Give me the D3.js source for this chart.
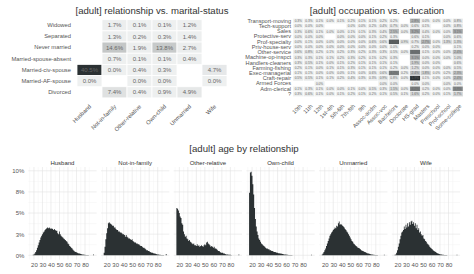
<!doctype html>
<html lang="en">
<head>
    <meta charset="utf-8"/>
    <title>adult - overview</title>
    <script src="https://d3js.org/d3.v7.min.js"></script>
    <style>
        body { margin: 0; padding: 0; background: #fff; -webkit-font-smoothing: antialiased; }
        svg { display: block; font-family: "Liberation Sans", Arial, sans-serif; }
        .domain { display: none; }
    </style>
</head>
<body>
<script>
    // ---------- data: relationship vs marital-status (% of all rows) ----------
    const relationships = ['Husband', 'Not-in-family', 'Other-relative', 'Own-child', 'Unmarried', 'Wife'];
    const maritalStatus = ['Widowed', 'Separated', 'Never married', 'Married-spouse-absent',
        'Married-civ-spouse', 'Married-AF-spouse', 'Divorced'];
    // one row per marital status, one value per relationship (null = no rows)
    const relMarital = [
        [null, 1.7, 0.1, 0.1, 1.2, null],
        [null, 1.3, 0.2, 0.3, 1.4, null],
        [null, 14.6, 1.9, 13.8, 2.7, null],
        [null, 0.7, 0.1, 0.1, 0.4, null],
        [40.5, 0.0, 0.4, 0.3, null, 4.7],
        [0.0, null, 0.0, 0.0, null, 0.0],
        [null, 7.4, 0.4, 0.9, 4.9, null]
    ];

    // ---------- data: occupation vs education ----------
    const educations = ['10th', '11th', '12th', '1st-4th', '5th-6th', '7th-8th', '9th', 'Assoc-acdm',
        'Assoc-voc', 'Bachelors', 'Doctorate', 'HS-grad', 'Masters', 'Preschool', 'Prof-school', 'Some-college'];
    const occupations = ['Transport-moving', 'Tech-support', 'Sales', 'Protective-serv', 'Prof-specialty',
        'Priv-house-serv', 'Other-service', 'Machine-op-inspct', 'Handlers-cleaners', 'Farming-fishing',
        'Exec-managerial', 'Craft-repair', 'Armed Forces', 'Adm-clerical', '?'];
    const occEdu = [
        [0.3, 0.3, 0.1, 0.0, 0.1, 0.2, 0.1, 0.1, 0.2, 0.2, null, 2.8, 0.0, 0.0, 0.0, 0.8],
        [0.0, 0.0, 0.0, null, null, 0.0, 0.0, 0.2, 0.4, 0.7, 0.0, 0.6, 0.1, null, 0.0, 0.8],
        [0.3, 0.6, 0.1, 0.0, 0.0, 0.1, 0.1, 0.3, 0.4, 2.5, 0.0, 3.2, 0.4, 0.0, 0.0, 3.1],
        [0.0, 0.0, 0.0, null, 0.0, 0.0, 0.0, 0.1, 0.2, 0.3, null, 0.6, 0.1, null, 0.0, 0.6],
        [0.0, 0.1, 0.0, 0.0, 0.0, 0.0, 0.0, 0.6, 0.6, 5.0, 0.9, 0.7, 2.7, 0.0, 1.3, 1.3],
        [0.0, 0.0, 0.0, 0.0, 0.0, 0.0, 0.0, 0.0, 0.0, 0.0, null, 0.2, 0.0, 0.0, null, 0.1],
        [0.6, 0.8, 0.2, 0.1, 0.2, 0.3, 0.2, 0.3, 0.3, 0.5, 0.0, 4.5, 0.1, 0.0, 0.0, 2.4],
        [0.3, 0.3, 0.1, 0.1, 0.2, 0.3, 0.2, 0.1, 0.2, 0.3, null, 3.1, 0.0, 0.0, 0.0, 1.0],
        [0.3, 0.5, 0.1, 0.0, 0.1, 0.2, 0.1, 0.1, 0.1, 0.1, null, 1.9, 0.0, 0.0, null, 0.6],
        [0.2, 0.1, 0.0, 0.1, 0.1, 0.3, 0.1, 0.1, 0.1, 0.2, 0.0, 1.2, 0.0, 0.0, 0.0, 0.5],
        [0.1, 0.1, 0.0, 0.0, 0.0, 0.1, 0.0, 0.6, 0.6, 4.2, 0.2, 2.4, 1.8, 0.0, 0.2, 2.3],
        [0.5, 0.5, 0.1, 0.1, 0.2, 0.4, 0.3, 0.3, 0.9, 0.8, 0.0, 5.9, 0.1, 0.0, 0.0, 2.4],
        [null, null, 0.0, null, null, null, null, null, 0.0, 0.0, null, 0.0, 0.0, null, 0.0, 0.0],
        [0.1, 0.3, 0.1, 0.0, 0.0, 0.1, 0.0, 0.5, 0.3, 1.5, 0.0, 4.2, 0.2, 0.0, 0.0, 3.9],
        [0.3, 0.6, 0.1, 0.0, 0.1, 0.2, 0.1, 0.2, 0.1, 0.5, 0.1, 1.6, 0.2, 0.0, 0.1, 1.7]
    ];

    // ---------- data: age histograms (% of each relationship, ages 17..90) ----------
    const ageMin = 17;
    const ageHusband = [0.0, 0.01, 0.05, 0.1, 0.2, 0.4, 0.6, 0.9, 1.2, 1.5, 1.8, 2.1, 2.3, 2.5, 2.7, 2.8, 3.0, 3.1,
        3.2, 3.3, 3.2, 3.3, 3.2, 3.1, 3.2, 3.1, 3.0, 3.1, 3.0, 2.9, 2.9, 2.6, 2.5, 2.8, 2.5, 2.3, 2.2, 2.1, 2.0,
        1.9, 1.8, 1.7, 1.6, 1.4, 1.3, 1.1, 1.0, 0.9, 0.8, 0.65, 0.55, 0.45, 0.4, 0.35, 0.3, 0.25, 0.22, 0.2,
        0.15, 0.12, 0.1, 0.08, 0.06, 0.05, 0.04, 0.03, 0.02, 0.02, 0.01, 0.01, 0.0, 0.01, 0.0, 0.1];
    const ageNotInFamily = [0.3, 1.0, 1.9, 2.6, 3.2, 3.8, 3.9, 3.8, 3.7, 3.6, 3.5, 3.5, 3.3, 3.3, 3.1, 3.0, 3.0,
        2.8, 2.8, 2.7, 2.7, 2.6, 2.5, 2.5, 2.4, 2.2, 2.4, 2.2, 2.1, 2.0, 2.0, 1.9, 1.8, 1.9, 1.7, 1.6, 1.5, 1.5,
        1.4, 1.4, 1.3, 1.3, 1.2, 1.1, 1.1, 1.0, 0.9, 0.9, 0.8, 0.7, 0.6, 0.6, 0.5, 0.5, 0.4, 0.35, 0.3, 0.3,
        0.25, 0.2, 0.2, 0.15, 0.12, 0.1, 0.08, 0.06, 0.05, 0.04, 0.03, 0.02, 0.02, 0.01, 0.01, 0.15];
    const ageOtherRelative = [5.6, 5.5, 5.3, 5.0, 4.6, 4.4, 3.8, 3.6, 2.8, 2.5, 2.2, 2.3, 2.0, 1.9, 1.7, 1.8, 1.6,
        1.5, 1.4, 1.3, 1.4, 1.2, 1.2, 1.1, 1.3, 1.1, 1.2, 1.0, 1.1, 1.2, 1.1, 1.0, 1.2, 1.3, 1.2, 1.5, 1.6, 1.4,
        1.3, 1.2, 1.0, 1.1, 1.0, 0.9, 1.0, 0.8, 0.8, 0.7, 0.6, 0.5, 0.5, 0.4, 0.3, 0.3, 0.3, 0.2, 0.2, 0.15,
        0.1, 0.1, 0.1, 0.05, 0.05, 0.05, 0.02, 0, 0, 0, 0, 0, 0, 0, 0, 0.1];
    const ageOwnChild = [7.4, 9.8, 9.9, 9.4, 8.4, 7.2, 5.6, 4.3, 3.4, 2.8, 2.4, 2.0, 1.8, 1.6, 1.4, 1.3, 1.2, 1.1,
        1.0, 0.9, 0.8, 0.8, 0.7, 0.7, 0.6, 0.6, 0.5, 0.5, 0.45, 0.4, 0.4, 0.35, 0.3, 0.3, 0.25, 0.25, 0.2, 0.2,
        0.18, 0.15, 0.12, 0.1, 0.1, 0.08, 0.06, 0.05, 0.04, 0.03, 0.03, 0.02, 0.02, 0, 0, 0, 0, 0, 0, 0, 0, 0,
        0, 0, 0, 0, 0, 0, 0, 0, 0, 0, 0, 0, 0, 0.05];
    const ageUnmarried = [0.1, 0.2, 0.4, 0.6, 0.8, 1.1, 1.4, 1.7, 2.0, 2.3, 2.5, 2.7, 2.8, 3.0, 3.1, 3.3, 3.2,
        3.5, 3.4, 3.8, 4.0, 3.6, 3.7, 3.6, 3.5, 3.4, 3.3, 3.1, 3.0, 2.8, 2.7, 2.5, 2.3, 2.1, 1.9, 1.7, 1.6, 1.4,
        1.3, 1.2, 1.1, 1.0, 0.9, 0.85, 0.8, 0.7, 0.6, 0.55, 0.5, 0.45, 0.4, 0.35, 0.3, 0.25, 0.2, 0.2, 0.15,
        0.12, 0.1, 0.08, 0.06, 0.05, 0.04, 0.03, 0.02, 0.02, 0.01, 0.01, 0.01, 0.01, 0.01, 0.01, 0.01, 0.05];
    const ageWife = [0.05, 0.1, 0.3, 0.6, 1.0, 1.4, 1.9, 2.3, 2.7, 2.8, 3.0, 3.4, 3.1, 3.6, 3.3, 3.8, 3.4, 3.9,
        3.6, 4.0, 4.1, 3.7, 3.9, 3.5, 3.8, 3.2, 3.6, 3.0, 3.2, 2.7, 2.8, 2.5, 2.3, 2.4, 2.0, 1.9, 1.7, 1.6, 1.4,
        1.3, 1.2, 1.0, 0.9, 0.8, 0.7, 0.6, 0.5, 0.45, 0.4, 0.3, 0.25, 0.2, 0.15, 0.12, 0.1, 0.08, 0.06, 0.05,
        0.04, 0.03, 0.02, 0.02, 0.01, 0.01, 0.01, 0, 0, 0, 0, 0, 0, 0, 0, 0.06];
    const ageSeries = [ageHusband, ageNotInFamily, ageOtherRelative, ageOwnChild, ageUnmarried, ageWife];
    const ageTicks = [20, 30, 40, 50, 60, 70, 80];
    const pctTicks = [0, 2.5, 5, 7.5, 10];

    // ---------- drawing ----------
    const W = 474, H = 274;
    const ink = '#2b3133';
    const lab = '#555';
    const fam = 'Liberation Sans, Arial, sans-serif';

    const svg = d3.select('body').append('svg')
        .attr('width', W)
        .attr('height', H);

    function title(txt, x, y) {
        svg.append('text')
            .attr('x', x).attr('y', y)
            .attr('text-anchor', 'middle')
            .style('font-size', '9.6px')
            .style('fill', '#333')
            .text(txt);
    }

    // draws a heatmap: rows x cols with a grey ramp
    function heatmap(opts) {
        const x = d3.scaleBand().domain(opts.cols).range([opts.x0, opts.x1]);
        const y = d3.scaleBand().domain(opts.rows).range([opts.y0, opts.y1]);
        const maxV = d3.max(opts.values.flat());
        const color = d3.scalePow().exponent(1.5).domain([0, maxV]).range(['#eef0f0', ink]);

        const cells = [];
        opts.values.forEach(function (row, r) {
            row.forEach(function (v, c) {
                if (v !== null) cells.push({row: opts.rows[r], col: opts.cols[c], v: v});
            });
        });

        const g = svg.append('g');
        g.selectAll('rect').data(cells).enter().append('rect')
            .attr('x', d => x(d.col))
            .attr('y', d => y(d.row))
            .attr('width', x.bandwidth())
            .attr('height', y.bandwidth())
            .attr('fill', d => color(d.v))
            .attr('stroke', '#fff')
            .attr('stroke-width', opts.gap);

        g.selectAll('text.val').data(cells).enter().append('text')
            .attr('class', 'val')
            .attr('x', d => x(d.col) + x.bandwidth() / 2)
            .attr('y', d => y(d.row) + y.bandwidth() / 2)
            .attr('dy', '0.35em')
            .attr('text-anchor', 'middle')
            .style('font-size', opts.valSize + 'px')
            .style('fill', '#666')
            .text(d => d.v.toFixed(1) + '%');

        // row labels
        const ya = svg.append('g')
            .attr('transform', `translate(${opts.x0 - opts.rowPad},0)`)
            .call(d3.axisLeft(y).tickSize(0).tickPadding(0));
        ya.selectAll('text').style('font-size', opts.labSize + 'px').style('fill', lab)
            .style('font-family', fam);

        // column labels, tilted
        const xa = svg.append('g')
            .attr('transform', `translate(0,${opts.y1})`)
            .call(d3.axisBottom(x).tickSize(0).tickPadding(0));
        xa.selectAll('text')
            .attr('y', 0).attr('dy', 0)
            .attr('text-anchor', 'end')
            .attr('transform', `translate(${opts.colDx},${opts.colDy}) rotate(-45)`)
            .style('font-size', opts.labSize + 'px').style('fill', lab)
            .style('font-family', fam);
    }

    title('[adult] relationship vs. marital-status', 152, 14);
    heatmap({
        rows: maritalStatus, cols: relationships, values: relMarital,
        x0: 77, x1: 227, y0: 19.7, y1: 97.9, gap: 0.8,
        valSize: 6, labSize: 5.8, rowPad: 6, colDx: 2, colDy: 9
    });

    title('[adult] occupation vs. education', 377, 14);
    heatmap({
        rows: occupations, cols: educations, values: occEdu,
        x0: 293, x1: 463, y0: 18.4, y1: 96.6, gap: 0.4,
        valSize: 3.2, labSize: 5.6, rowPad: 2, colDx: 4, colDy: 10
    });

    // ---------- faceted histograms ----------
    title('[adult] age by relationship', 244, 152);

    const panelW = 68.3, panelStep = 72.7, panelLeft = 28.3;
    const panelTop = 167, panelBottom = 259.5;
    const y = d3.scaleLinear().domain([-0.5, 10.45]).range([panelBottom, panelTop]);

    // y labels (shared, left side)
    const yAxis = svg.append('g')
        .attr('transform', `translate(${panelLeft - 4},0)`)
        .call(d3.axisLeft(y).tickValues(pctTicks).tickSize(0).tickPadding(0)
            .tickFormat(d => Math.round(d) + '%'));
    yAxis.selectAll('text').style('font-size', '6px').style('fill', lab)
        .style('font-family', fam);

    relationships.forEach(function (rel, i) {
        const left = panelLeft + panelStep * i;
        const x = d3.scaleLinear().domain([13.35, 93.65]).range([left, left + panelW]);
        const g = svg.append('g');

        // minor grid
        g.selectAll('line.vmin').data([15, 25, 35, 45, 55, 65, 75, 85]).enter().append('line')
            .attr('x1', d => x(d)).attr('x2', d => x(d))
            .attr('y1', panelTop).attr('y2', panelBottom)
            .attr('stroke', '#f2f2f2').attr('stroke-width', 0.5);
        g.selectAll('line.hmin').data([1.25, 3.75, 6.25, 8.75]).enter().append('line')
            .attr('x1', left).attr('x2', left + panelW)
            .attr('y1', d => y(d)).attr('y2', d => y(d))
            .attr('stroke', '#f2f2f2').attr('stroke-width', 0.5);
        // major grid
        g.selectAll('line.vmaj').data(ageTicks).enter().append('line')
            .attr('x1', d => x(d)).attr('x2', d => x(d))
            .attr('y1', panelTop).attr('y2', panelBottom)
            .attr('stroke', '#e3e3e3').attr('stroke-width', 0.6);
        g.selectAll('line.hmaj').data(pctTicks).enter().append('line')
            .attr('x1', left).attr('x2', left + panelW)
            .attr('y1', d => y(d)).attr('y2', d => y(d))
            .attr('stroke', '#e3e3e3').attr('stroke-width', 0.6);

        // bars as one stepped shape (no seams between neighbouring bins)
        const bins = ageSeries[i].map((v, k) => ({age: ageMin + k, v: v}));
        bins.push({age: ageMin + bins.length, v: 0});
        const area = d3.area()
            .curve(d3.curveStepAfter)
            .x(d => x(d.age - 0.5))
            .y0(y(0))
            .y1(d => y(d.v));
        g.append('path')
            .datum(bins)
            .attr('d', area)
            .attr('fill', ink);

        // strip label
        svg.append('text')
            .attr('x', left + panelW / 2).attr('y', 165)
            .attr('text-anchor', 'middle')
            .style('font-size', '6px').style('fill', '#333')
            .text(rel);

        // x labels
        const xa = svg.append('g')
            .attr('transform', `translate(0,${panelBottom + 3})`)
            .call(d3.axisBottom(x).tickValues(ageTicks).tickSize(0).tickPadding(0));
        xa.selectAll('text').style('font-size', '6px').style('fill', lab)
            .style('font-family', fam);
    });
</script>
</body>
</html>
